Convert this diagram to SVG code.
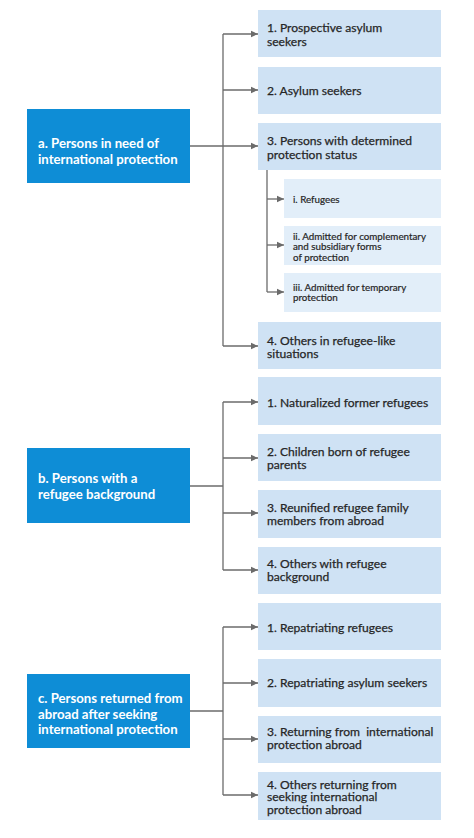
<svg xmlns="http://www.w3.org/2000/svg" width="474" height="838" viewBox="0 0 474 838">
<style>
.main{fill:#0e8dd6}
.main-t{font-family:Lato,"Liberation Sans",sans-serif;font-size:13.2px;font-weight:bold;fill:#ffffff}
.box{fill:#cfe2f4}
.sub{fill:#e2eef9}
.t{font-family:Lato,"Liberation Sans",sans-serif;font-size:12.1px;fill:#262626;stroke:#262626;stroke-width:0.25}
.st{font-family:Lato,"Liberation Sans",sans-serif;font-size:9.8px;fill:#262626;stroke:#262626;stroke-width:0.2}
.c{fill:none;stroke:#6b6b6b;stroke-width:1.3}
</style>
<defs>
<marker id="ah" markerUnits="userSpaceOnUse" markerWidth="8" markerHeight="8" refX="7" refY="4" orient="auto">
<path d="M0,0.8 L7,4 L0,7.2 Z" fill="#6b6b6b"/>
</marker>
</defs>
<rect width="474" height="838" fill="#ffffff"/>

<g id="connectors">
<path class="c" d="M223,34 V346"/>
<path class="c" d="M190,146 H258" marker-end="url(#ah)"/>
<path class="c" d="M223,34 H258" marker-end="url(#ah)"/>
<path class="c" d="M223,90 H258" marker-end="url(#ah)"/>
<path class="c" d="M223,346 H258" marker-end="url(#ah)"/>
<path class="c" d="M267,170 V292"/>
<path class="c" d="M267,199 H284" marker-end="url(#ah)"/>
<path class="c" d="M267,245 H284" marker-end="url(#ah)"/>
<path class="c" d="M267,292 H284" marker-end="url(#ah)"/>

<path class="c" d="M223,402 V570"/>
<path class="c" d="M190,486 H223"/>
<path class="c" d="M223,402 H258" marker-end="url(#ah)"/>
<path class="c" d="M223,458 H258" marker-end="url(#ah)"/>
<path class="c" d="M223,513 H258" marker-end="url(#ah)"/>
<path class="c" d="M223,570 H258" marker-end="url(#ah)"/>

<path class="c" d="M223,627 V795"/>
<path class="c" d="M190,711 H223"/>
<path class="c" d="M223,627 H258" marker-end="url(#ah)"/>
<path class="c" d="M223,683 H258" marker-end="url(#ah)"/>
<path class="c" d="M223,739 H258" marker-end="url(#ah)"/>
<path class="c" d="M223,795 H258" marker-end="url(#ah)"/>
</g>

<g id="a">
<rect class="main" x="27" y="109" width="163" height="74"/>
<text class="main-t" x="38" y="147.5">a. Persons in need of</text>
<text class="main-t" x="38" y="163.5">international protection</text>
</g>
<g id="a1">
<rect class="box" x="258" y="10" width="183" height="47"/>
<text class="t" x="267" y="32">1. Prospective asylum</text>
<text class="t" x="267" y="45.5">seekers</text>
</g>
<g id="a2">
<rect class="box" x="258" y="67" width="183" height="47"/>
<text class="t" x="267" y="95">2. Asylum seekers</text>
</g>
<g id="a3">
<rect class="box" x="258" y="123" width="183" height="47"/>
<text class="t" x="267" y="145">3. Persons with determined</text>
<text class="t" x="267" y="158.5">protection status</text>
</g>
<g id="a3i">
<rect class="sub" x="284" y="179" width="157" height="39"/>
<text class="st" x="293" y="202.5">i. Refugees</text>
</g>
<g id="a3ii">
<rect class="sub" x="284" y="226" width="157" height="39"/>
<text class="st" x="293" y="239.5">ii. Admitted for complementary</text>
<text class="st" x="293" y="250">and subsidiary forms</text>
<text class="st" x="293" y="260.5">of protection</text>
</g>
<g id="a3iii">
<rect class="sub" x="284" y="273" width="157" height="39"/>
<text class="st" x="293" y="290.5">iii. Admitted for temporary</text>
<text class="st" x="293" y="301">protection</text>
</g>
<g id="a4">
<rect class="box" x="258" y="322" width="183" height="47"/>
<text class="t" x="267" y="344.5">4. Others in refugee-like</text>
<text class="t" x="267" y="357.5">situations</text>
</g>

<g id="b">
<rect class="main" x="27" y="448" width="163" height="75"/>
<text class="main-t" x="38" y="482.5">b. Persons with a</text>
<text class="main-t" x="38" y="498.5">refugee background</text>
</g>
<g id="b1">
<rect class="box" x="258" y="377" width="183" height="48"/>
<text class="t" x="267" y="406.5">1. Naturalized former refugees</text>
</g>
<g id="b2">
<rect class="box" x="258" y="434" width="183" height="47"/>
<text class="t" x="267" y="456">2. Children born of refugee</text>
<text class="t" x="267" y="469">parents</text>
</g>
<g id="b3">
<rect class="box" x="258" y="490" width="183" height="48"/>
<text class="t" x="267" y="511.5">3. Reunified refugee family</text>
<text class="t" x="267" y="524.5">members from abroad</text>
</g>
<g id="b4">
<rect class="box" x="258" y="547" width="183" height="47"/>
<text class="t" x="267" y="567.5">4. Others with refugee</text>
<text class="t" x="267" y="580.5">background</text>
</g>

<g id="c">
<rect class="main" x="27" y="674" width="163" height="74"/>
<text class="main-t" x="38" y="703">c. Persons returned from</text>
<text class="main-t" x="38" y="718.5">abroad after seeking</text>
<text class="main-t" x="38" y="734">international protection</text>
</g>
<g id="c1">
<rect class="box" x="258" y="603" width="183" height="47"/>
<text class="t" x="267" y="631.5">1. Repatriating refugees</text>
</g>
<g id="c2">
<rect class="box" x="258" y="659" width="183" height="48"/>
<text class="t" x="267" y="686.5">2. Repatriating asylum seekers</text>
</g>
<g id="c3">
<rect class="box" x="258" y="716" width="183" height="47"/>
<text class="t" x="267" y="736" xml:space="preserve">3. Returning from  international</text>
<text class="t" x="267" y="749">protection abroad</text>
</g>
<g id="c4">
<rect class="box" x="258" y="772" width="183" height="48"/>
<text class="t" x="267" y="788.5">4. Others returning from</text>
<text class="t" x="267" y="801">seeking international</text>
<text class="t" x="267" y="813.5">protection abroad</text>
</g>
</svg>
